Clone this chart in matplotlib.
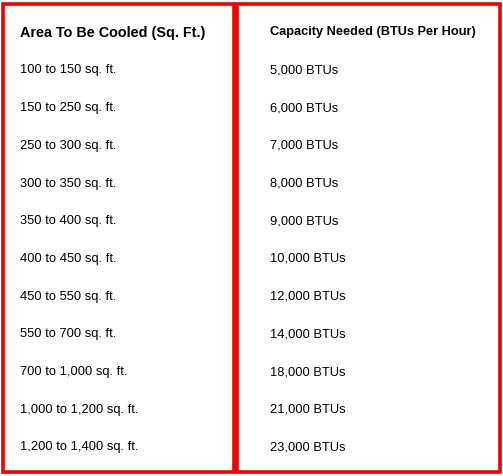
import matplotlib.pyplot as plt
from matplotlib.patches import Rectangle

W, H = 503, 477

headers = ["Area To Be Cooled (Sq. Ft.)", "Capacity Needed (BTUs Per Hour)"]
areas = ["100 to 150 sq. ft.", "150 to 250 sq. ft.", "250 to 300 sq. ft.",
         "300 to 350 sq. ft.", "350 to 400 sq. ft.", "400 to 450 sq. ft.",
         "450 to 550 sq. ft.", "550 to 700 sq. ft.", "700 to 1,000 sq. ft.",
         "1,000 to 1,200 sq. ft.", "1,200 to 1,400 sq. ft."]
capacity = ["5,000 BTUs", "6,000 BTUs", "7,000 BTUs", "8,000 BTUs",
            "9,000 BTUs", "10,000 BTUs", "12,000 BTUs", "14,000 BTUs",
            "18,000 BTUs", "21,000 BTUs", "23,000 BTUs"]

plt.rcParams['font.family'] = ['Liberation Sans', 'DejaVu Sans']

fig = plt.figure(figsize=(W / 100, H / 100), dpi=100)
ax = fig.add_axes([0, 0, 1, 1])
ax.set_xlim(0, W)
ax.set_ylim(H, 0)
ax.axis('off')

# red column borders
ax.add_patch(Rectangle((3, 5), 231, 468, fill=False, edgecolor='#ee0000', linewidth=2.6))
ax.add_patch(Rectangle((237, 5), 263, 468, fill=False, edgecolor='#ee0000', linewidth=2.6))

# headers
ax.text(20, 31, headers[0], fontsize=10.4, fontweight='bold', va='center_baseline', ha='left')
ax.text(270, 31, headers[1], fontsize=9.2, fontweight='bold', va='center_baseline', ha='left')

# rows
y0, step = 69, 37.7
for i, (a, c) in enumerate(zip(areas, capacity)):
    y = y0 + i * step
    ax.text(20, y, a, fontsize=9.3, va='center_baseline', ha='left')
    ax.text(270, y, c, fontsize=9.3, va='center_baseline', ha='left')

fig.savefig('out.png', dpi=100)
